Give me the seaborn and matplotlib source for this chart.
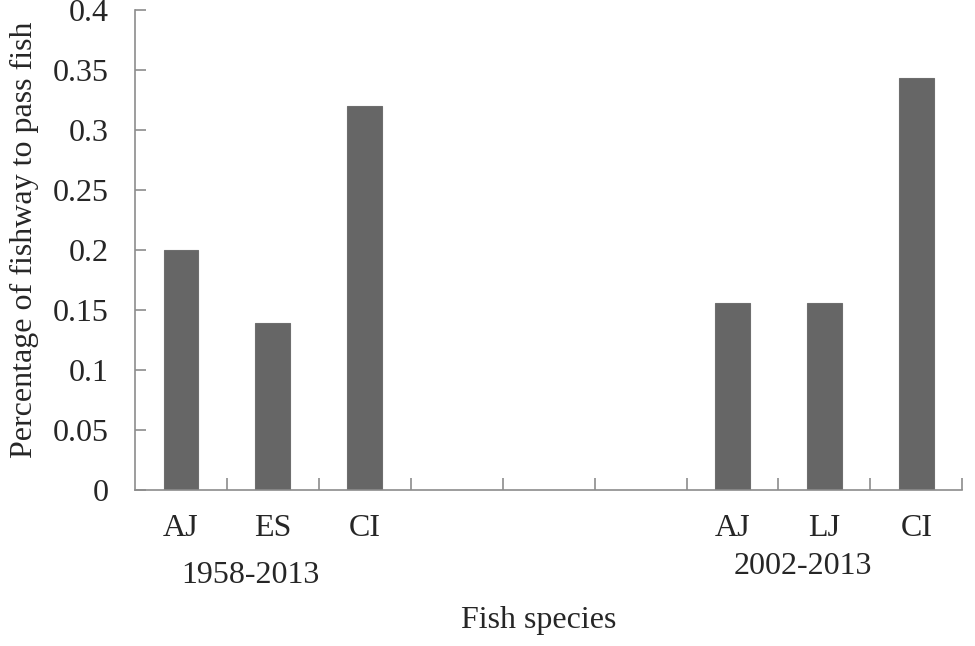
import matplotlib
matplotlib.use('Agg')

import numpy as np
import pandas as pd
import matplotlib.pyplot as plt
import seaborn as sns

sns.set_theme(style="white")
plt.rcParams['font.family'] = ['Liberation Serif', 'DejaVu Serif']

# slots along the x axis (three empty slots between the two periods)
slots = ['AJ_a', 'ES_a', 'CI_a', 'gap1', 'gap2', 'gap3', 'AJ_b', 'LJ_b', 'CI_b']
slot_labels = ['AJ', 'ES', 'CI', '', '', '', 'AJ', 'LJ', 'CI']
bar_slots = ['AJ_a', 'ES_a', 'CI_a', 'AJ_b', 'LJ_b', 'CI_b']
values = [0.20, 0.139, 0.32, 0.156, 0.156, 0.343]
periods = ['1958-2013', '2002-2013']

df = pd.DataFrame({'slot': bar_slots, 'value': values})

fig, ax = plt.subplots(figsize=(9.75, 6.46), dpi=100)
fig.subplots_adjust(left=0.1385, right=0.987, top=0.985, bottom=0.2415)

sns.barplot(data=df, x='slot', y='value', order=slots, color='#666666',
            saturation=1, width=0.38, ax=ax, edgecolor='#6e6e6e', linewidth=0.8)

ax.set_xlim(-0.5, len(slots) - 0.5)
ax.set_ylim(0, 0.4)
ax.set_yticks(np.arange(0, 0.401, 0.05))
ax.set_yticklabels(['0', '0.05', '0.1', '0.15', '0.2', '0.25', '0.3', '0.35', '0.4'])

# category labels at slot centres, tick marks at slot boundaries
ax.set_xticks(np.arange(len(slots)))
ax.set_xticklabels(slot_labels)
ax.set_xticks(np.arange(0.5, len(slots)), minor=True)
ax.tick_params(axis='x', which='major', length=0, pad=17, labelsize=23)
ax.tick_params(axis='x', which='minor', length=9, direction='in', color='#8c8c8c', width=1.2, bottom=True)
ax.tick_params(axis='y', length=8, direction='in', color='#8c8c8c', width=1.2, labelsize=23, pad=19, left=True)

for side in ['top', 'right']:
    ax.spines[side].set_visible(False)
for side in ['left', 'bottom']:
    ax.spines[side].set_color('#8c8c8c')
    ax.spines[side].set_linewidth(1.2)

ax.set_xlabel('')
ax.set_ylabel('Percentage of fishway to pass fish', fontsize=23)
ax.yaxis.set_label_coords(-0.116, 0.52)

ax.text(0.75, -0.177, periods[0], transform=ax.get_xaxis_transform(), ha='center', va='center', fontsize=23)
ax.text(6.77, -0.160, periods[1], transform=ax.get_xaxis_transform(), ha='center', va='center', fontsize=23)
fig.text(0.552, 0.04, 'Fish species', ha='center', va='center', fontsize=23)

fig.savefig('out.png', dpi=100, facecolor='white')
